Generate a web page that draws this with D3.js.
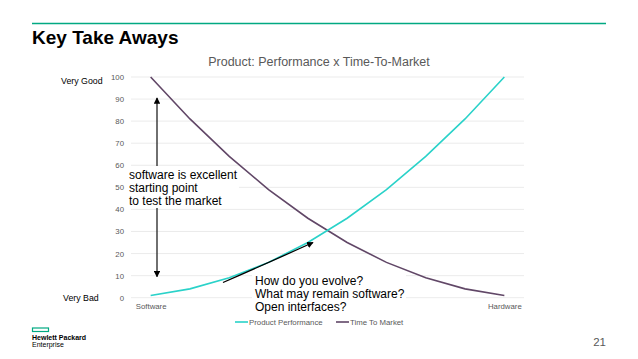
<!DOCTYPE html>
<html>
<head>
<meta charset="utf-8">
<script src="https://cdn.jsdelivr.net/npm/d3@7"></script>
<style>
  body { margin: 0; background: #fff; }
  svg { display: block; font-family: "Liberation Sans", Arial, sans-serif; }
</style>
</head>
<body>
<svg id="chart" width="638" height="359"></svg>
<script>
// data
var categoryLabels = ["Software", "", "", "", "", "", "", "", "", "Hardware"];
var productPerformance = [1, 4, 9, 16, 25, 36, 49, 64, 81, 100];
var timeToMarket = [100, 81, 64, 49, 36, 25, 16, 9, 4, 1];
var yTicks = [0, 10, 20, 30, 40, 50, 60, 70, 80, 90, 100];
var seriesNames = ["Product Performance", "Time To Market"];

// parameters
var tealColor = "#2ad2c9";
var purpleColor = "#614767";
var hpeGreen = "#01a982";
var axisGray = "#595959";
var gridGray = "#e6e6e6";
var smallFont = 7.8;
var noteFont = 12;

var svg = d3.select("#chart");

// top rule + slide title
svg.append("line")
    .attr("x1", 32).attr("x2", 606)
    .attr("y1", 23.5).attr("y2", 23.5)
    .attr("stroke", hpeGreen).attr("stroke-width", 1.3);

svg.append("text")
    .attr("x", 32).attr("y", 43.5)
    .attr("font-size", 19).attr("font-weight", "bold")
    .attr("fill", "#000")
    .text("Key Take Aways");

// chart title
svg.append("text")
    .attr("x", 319).attr("y", 66)
    .attr("text-anchor", "middle")
    .attr("font-size", 12.5).attr("fill", axisGray)
    .text("Product: Performance x Time-To-Market");

var x = d3.scalePoint()
    .domain(d3.range(categoryLabels.length))
    .range([131, 524])
    .padding(0.5);

var y = d3.scaleLinear()
    .domain([0, 100])
    .range([297.7, 77]);

// gridlines
svg.append("g")
    .selectAll("line")
    .data(yTicks)
    .join("line")
    .attr("x1", 131).attr("x2", 524)
    .attr("y1", function (d) { return y(d); })
    .attr("y2", function (d) { return y(d); })
    .attr("stroke", gridGray).attr("stroke-width", 0.8);

// y axis labels
var yAxis = svg.append("g")
    .attr("transform", "translate(124,0)")
    .call(d3.axisLeft(y).tickValues(yTicks).tickSize(0).tickPadding(0));
yAxis.select(".domain").remove();
yAxis.selectAll("text")
    .attr("font-size", smallFont).attr("fill", axisGray)
    .attr("font-family", "Liberation Sans, Arial, sans-serif");

// x axis labels
var xAxis = svg.append("g")
    .attr("transform", "translate(0,303)")
    .call(d3.axisBottom(x).tickSize(0).tickPadding(0)
        .tickFormat(function (i) { return categoryLabels[i]; }));
xAxis.select(".domain").remove();
xAxis.selectAll("text")
    .attr("font-size", smallFont).attr("fill", axisGray)
    .attr("font-family", "Liberation Sans, Arial, sans-serif");

// lines
var line = d3.line()
    .x(function (d, i) { return x(i); })
    .y(function (d) { return y(d); });

svg.append("path")
    .datum(timeToMarket)
    .attr("d", line)
    .attr("fill", "none")
    .attr("stroke", purpleColor).attr("stroke-width", 1.6);

svg.append("path")
    .datum(productPerformance)
    .attr("d", line)
    .attr("fill", "none")
    .attr("stroke", tealColor).attr("stroke-width", 1.6);

// legend
var legend = svg.append("g").attr("transform", "translate(0,322)");
var legendItems = [
    {name: seriesNames[0], color: tealColor, x: 235},
    {name: seriesNames[1], color: purpleColor, x: 336}
];
legendItems.forEach(function (d) {
    legend.append("line")
        .attr("x1", d.x).attr("x2", d.x + 13)
        .attr("y1", 0).attr("y2", 0)
        .attr("stroke", d.color).attr("stroke-width", 1.6);
    legend.append("text")
        .attr("x", d.x + 14).attr("y", 3)
        .attr("font-size", smallFont).attr("fill", axisGray)
        .text(d.name);
});

// very good / very bad
svg.append("text")
    .attr("x", 61).attr("y", 83.5)
    .attr("font-size", 8.8).attr("fill", "#000")
    .text("Very Good");
svg.append("text")
    .attr("x", 63).attr("y", 300.5)
    .attr("font-size", 8.8).attr("fill", "#000")
    .text("Very Bad");

// arrow marker
var defs = svg.append("defs");
defs.append("marker")
    .attr("id", "arrowhead")
    .attr("viewBox", "0 0 10 10")
    .attr("refX", 9).attr("refY", 5)
    .attr("markerWidth", 5).attr("markerHeight", 5)
    .attr("orient", "auto-start-reverse")
    .append("path")
    .attr("d", "M0,0 L10,5 L0,10 z")
    .attr("fill", "#000");

// vertical double arrow
svg.append("line")
    .attr("x1", 157).attr("x2", 157)
    .attr("y1", y(90.5)).attr("y2", y(9.5))
    .attr("stroke", "#222").attr("stroke-width", 1.3)
    .attr("marker-start", "url(#arrowhead)")
    .attr("marker-end", "url(#arrowhead)");

// curved arrow
svg.append("path")
    .attr("d", "M223,282.5 Q270,262 313,242.5")
    .attr("fill", "none")
    .attr("stroke", "#000").attr("stroke-width", 1.3)
    .attr("marker-end", "url(#arrowhead)");

// annotation boxes
var note1 = ["software is excellent", "starting point", "to test the market"];
var note2 = ["How do you evolve?", "What may remain software?", "Open interfaces?"];

var drawNote = function (lines, bx, by, bw, bh, tx, ty) {
    svg.append("rect")
        .attr("x", bx).attr("y", by)
        .attr("width", bw).attr("height", bh)
        .attr("fill", "#fff");
    svg.append("g").selectAll("text")
        .data(lines)
        .join("text")
        .attr("x", tx)
        .attr("y", function (d, i) { return ty + i * 13; })
        .attr("font-size", noteFont).attr("fill", "#000")
        .text(function (d) { return d; });
};

drawNote(note1, 127, 166, 112, 42, 129, 178.5);
drawNote(note2, 252, 271, 154, 42, 255, 284.5);

// page number
svg.append("text")
    .attr("x", 606).attr("y", 346)
    .attr("text-anchor", "end")
    .attr("font-size", 11.5).attr("fill", axisGray)
    .text("21");

// HPE logo
svg.append("rect")
    .attr("x", 32.5).attr("y", 328)
    .attr("width", 16).attr("height", 3.5)
    .attr("fill", "none")
    .attr("stroke", hpeGreen).attr("stroke-width", 1.2);
svg.append("text")
    .attr("x", 32).attr("y", 340)
    .attr("font-size", 7).attr("font-weight", "bold").attr("fill", "#000")
    .text("Hewlett Packard");
svg.append("text")
    .attr("x", 32).attr("y", 347)
    .attr("font-size", 7).attr("fill", "#000")
    .text("Enterprise");
</script>
</body>
</html>
